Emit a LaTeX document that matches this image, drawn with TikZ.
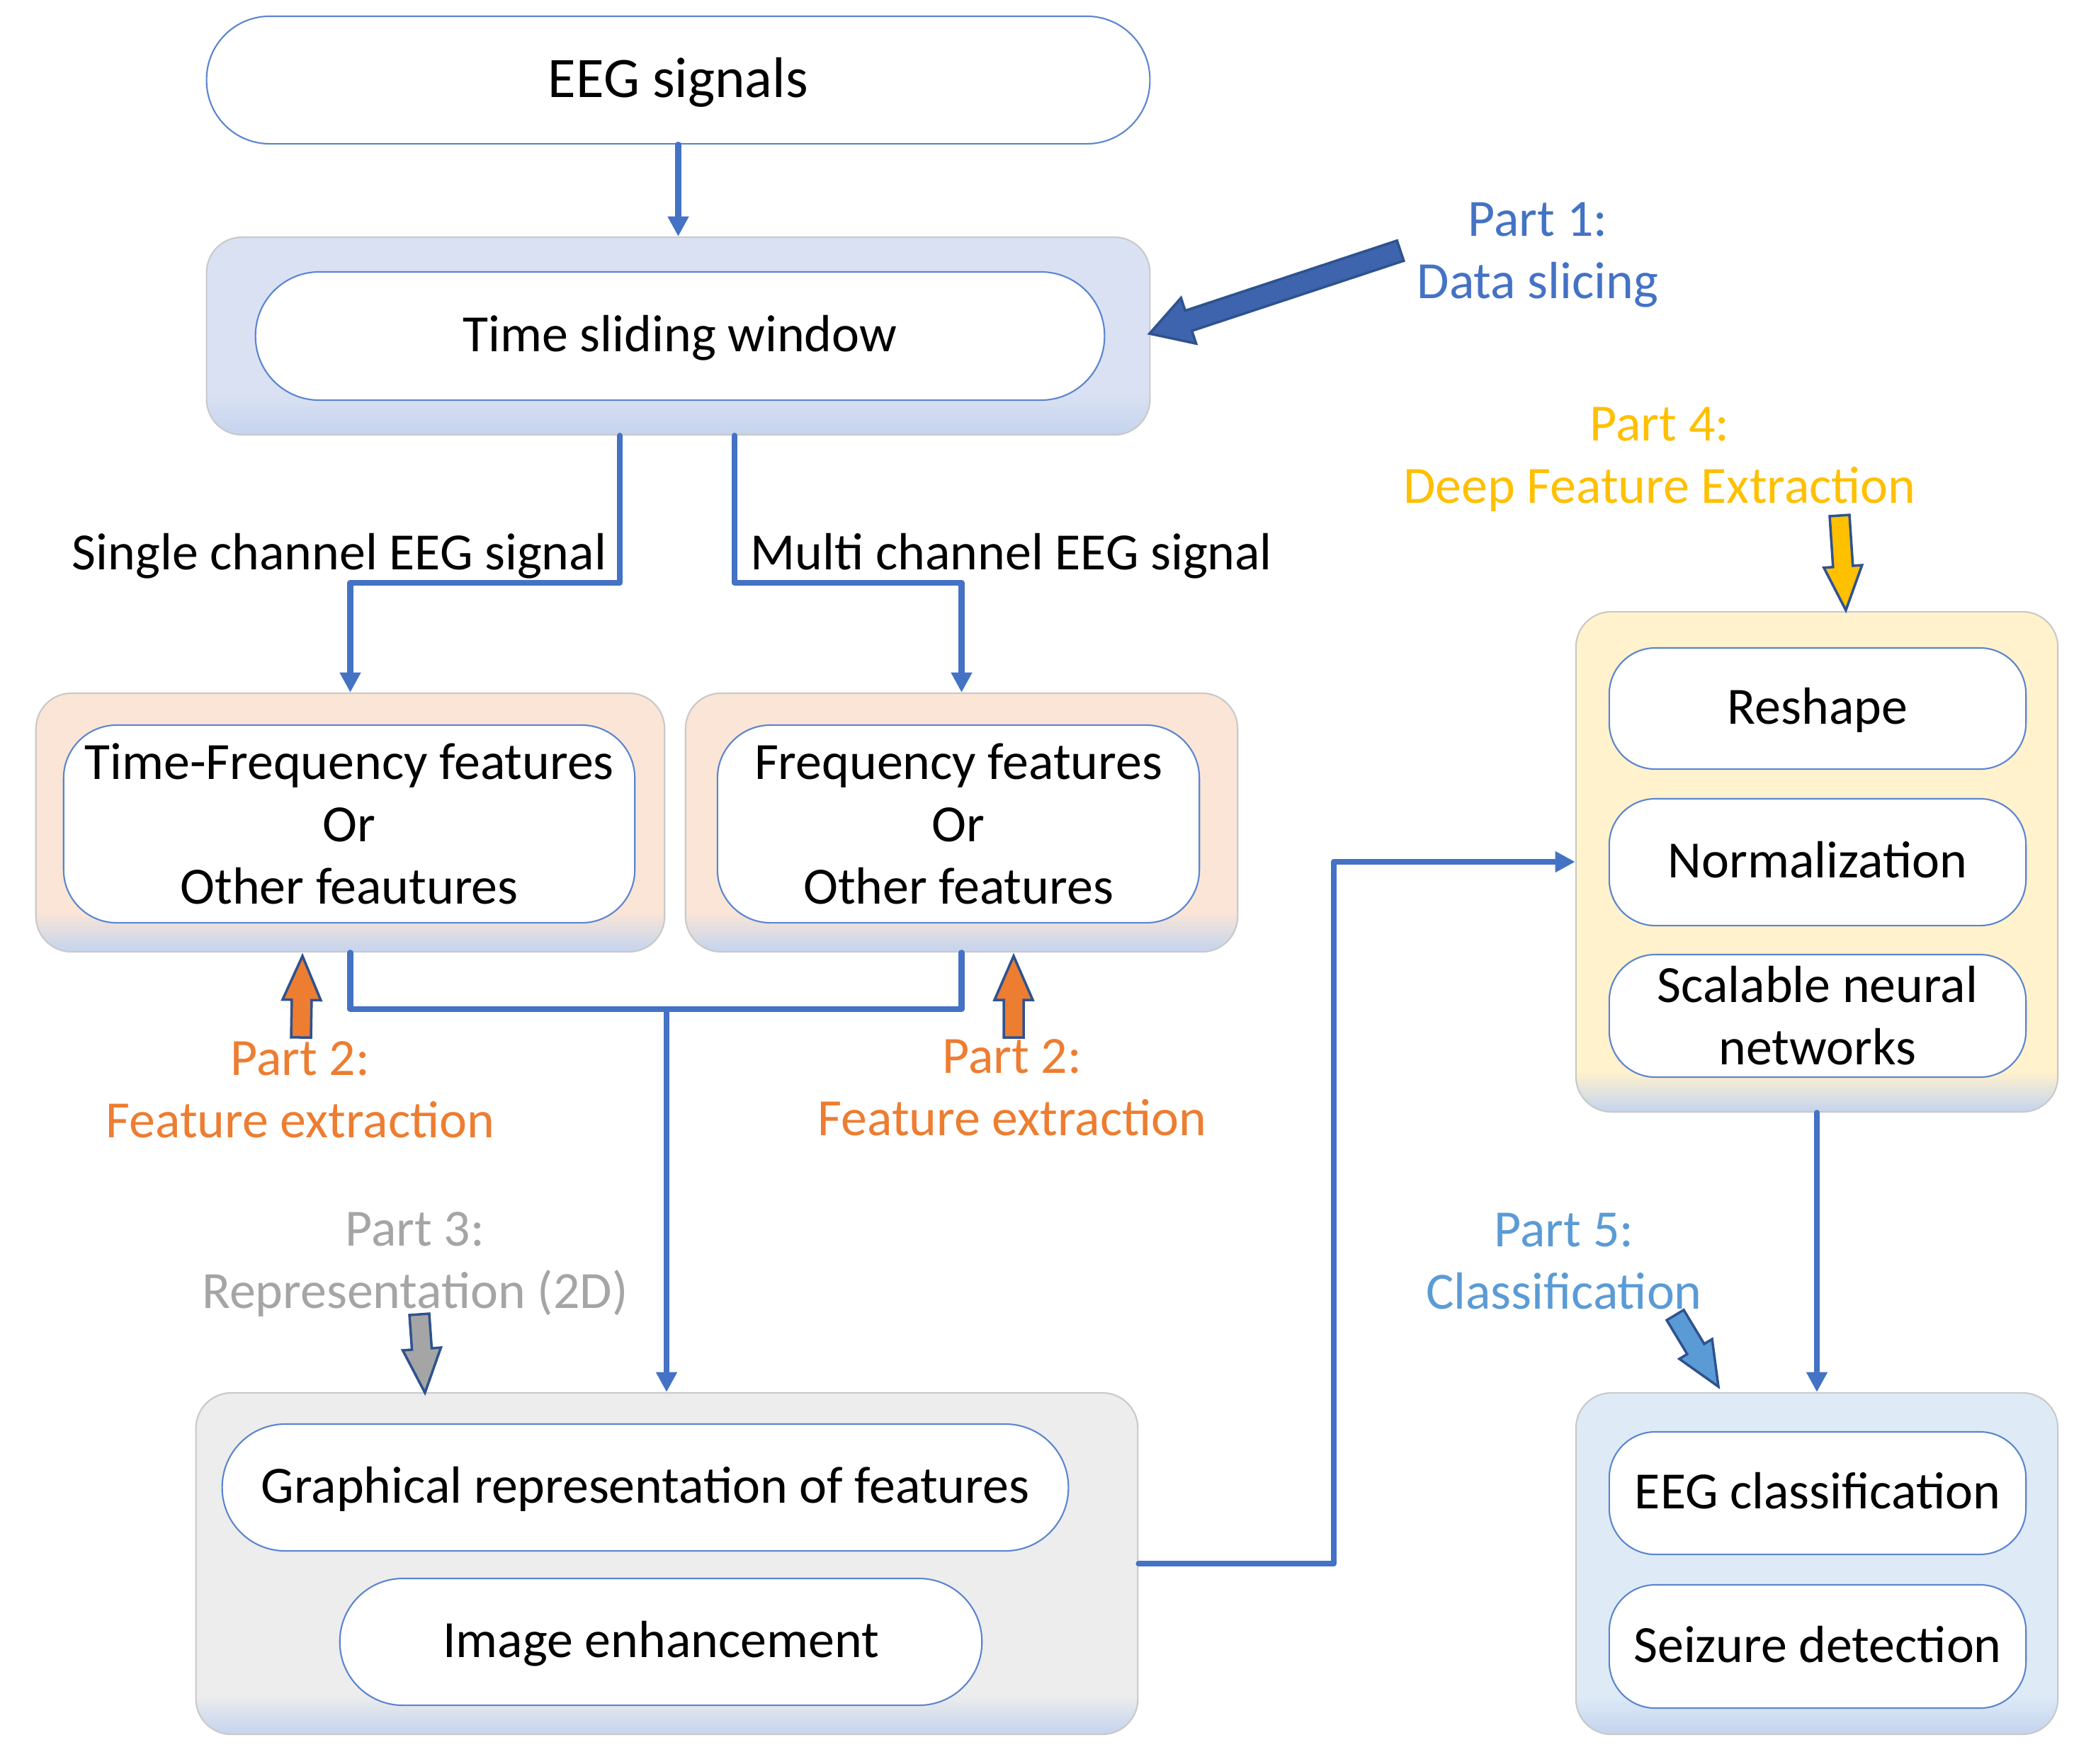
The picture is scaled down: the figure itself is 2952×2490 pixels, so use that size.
\documentclass[tikz,border=0pt]{standalone}
\usepackage{fontspec}
\setmainfont{Carlito}
\usetikzlibrary{arrows.meta,calc}
\definecolor{lineblue}{HTML}{4472C4}
\definecolor{pillblue}{HTML}{5B85D0}
\definecolor{boxgray}{HTML}{C9C9C9}
\definecolor{shadebot}{HTML}{C5D4EE}
\definecolor{twfill}{HTML}{DAE1F3}
\definecolor{peach}{HTML}{FBE5D6}
\definecolor{lgray}{HTML}{EDEDED}
\definecolor{lyellow}{HTML}{FFF2CC}
\definecolor{lblue}{HTML}{DEEBF7}
\definecolor{orng}{HTML}{ED7D31}
\definecolor{gtext}{HTML}{A5A5A5}
\definecolor{gold}{HTML}{FFC000}
\definecolor{pfive}{HTML}{5B9BD5}
\definecolor{pone}{HTML}{3D64AD}
\definecolor{arredge}{HTML}{2F528F}
\newcommand\fatarrow[7]{%
  \begin{scope}[shift={(#1)},rotate=#2]
    \filldraw[fill=#7,draw=arredge,line width=1pt]
      (0,-#4) -- ({#3-#6},-#4) -- ({#3-#6},-#5) -- (#3,0) -- ({#3-#6},#5) -- ({#3-#6},#4) -- (0,#4) -- cycle;
  \end{scope}}
\tikzset{
  outerbox/.style={draw=boxgray, line width=0.6pt, rounded corners=0.5cm, inner sep=0pt, fill=#1,
    path picture={
      \foreach \i [evaluate=\i as \p using {int((\i+1)*4)}, evaluate=\i as \h using {(25-\i)*0.022}] in {0,...,24}
        \fill[sharp corners, shadebot!\p!#1]
          ($(path picture bounding box.south west)+(0,\h cm)$) rectangle (path picture bounding box.south east);
    }},
  pill/.style={draw=pillblue, fill=white, line width=0.6pt, inner sep=0pt, align=center,
    font=\fontsize{21}{25}\selectfont},
  one/.style={text depth=2pt},
  lbl/.style={inner sep=0pt, align=center, font=\fontsize{21}{25}\selectfont},
  conn/.style={draw=lineblue, line width=2.3pt, line cap=round, line join=round},
  arr/.style={conn, -{Triangle[width=8pt,length=8pt]}},
}
\begin{document}
\begin{tikzpicture}[x=0.01cm,y=-0.01cm]
\useasboundingbox (0,0) rectangle (2952,2490);
% top
\node[pill, one, minimum width=13.31cm, minimum height=1.80cm, rounded corners=0.89cm,
  font=\fontsize{23}{27}\selectfont] (eeg) at (957.5,113) {EEG signals};
\node[outerbox=twfill, minimum width=13.31cm, minimum height=2.79cm] (tw) at (957.5,474.5) {};
\node[pill, one, minimum width=11.98cm, minimum height=1.81cm, rounded corners=0.9cm] (twin) at (960,474.5) {Time sliding window};
% feature boxes
\node[outerbox=peach, minimum width=8.87cm, minimum height=3.65cm] (f1) at (494.5,1161.5) {};
\node[pill, minimum width=8.06cm, minimum height=2.79cm, rounded corners=0.75cm] (f1in) at (493,1163.5)
  {Time-Frequency features\\Or\\Other feautures};
\node[outerbox=peach, minimum width=7.79cm, minimum height=3.65cm] (f2) at (1357.5,1161.5) {};
\node[pill, minimum width=6.80cm, minimum height=2.79cm, rounded corners=0.75cm] (f2in) at (1353,1163.5)
  {Frequency features\\Or\\Other features};
% graphical box
\node[outerbox=lgray, minimum width=13.29cm, minimum height=4.82cm] (g) at (941.5,2208) {};
\node[pill, one, minimum width=11.94cm, minimum height=1.79cm, rounded corners=0.89cm] (g1) at (911,2100.5)
  {Graphical representation of features};
\node[pill, one, minimum width=9.06cm, minimum height=1.79cm, rounded corners=0.89cm] (g2) at (933,2318.5)
  {Image enhancement};
% part 4 box
\node[outerbox=lyellow, minimum width=6.80cm, minimum height=7.06cm] (p4) at (2565,1217) {};
\node[pill, one, minimum width=5.88cm, minimum height=1.71cm, rounded corners=0.65cm] (r1) at (2566,1000.5) {Reshape};
\node[pill, one, minimum width=5.88cm, minimum height=1.79cm, rounded corners=0.65cm] (r2) at (2566,1217.5) {Normalization};
\node[pill, minimum width=5.88cm, minimum height=1.73cm, rounded corners=0.65cm] (r3) at (2566,1434.5) {Scalable neural\\networks};
% part 5 box
\node[outerbox=lblue, minimum width=6.80cm, minimum height=4.82cm] (p5) at (2565,2208) {};
\node[pill, one, minimum width=5.88cm, minimum height=1.73cm, rounded corners=0.65cm] (c1) at (2566,2108.5) {EEG classification};
\node[pill, one, minimum width=5.88cm, minimum height=1.74cm, rounded corners=0.65cm] (c2) at (2566,2325) {Seizure detection};
% labels
\node[lbl, one] (bl1) at (479,782) {Single channel EEG signal};
\node[lbl, one] (bl2) at (1428,782) {Multi channel EEG signal};
\node[lbl, text=lineblue] (l1) at (2171,360) {Part 1:\\Data slicing};
\node[lbl, text=orng] (l2a) at (424,1539) {Part 2:\\Feature extraction};
\node[lbl, text=orng] (l2b) at (1429,1536) {Part 2:\\Feature extraction};
\node[lbl, text=gtext] (l3) at (586,1785) {Part 3:\\Representation (2D)};
\node[lbl, text=gold] (l4) at (2343,649) {Part 4:\\Deep Feature Extraction};
\node[lbl, text=pfive] (l5) at (2208,1781) {Part 5:\\Classification};
% connectors
\coordinate (s1) at (875,823);
\coordinate (s2) at (1037,823);
\coordinate (j) at (941,1425);
\coordinate (k) at (1883,2208);
\draw[arr] (eeg.south) -- (tw.north);
\draw[arr] (tw.south -| s1) -- (s1) -| (f1.north);
\draw[arr] (tw.south -| s2) -- (s2) -| (f2.north);
\draw[conn] (f1.south) |- (j) -| (f2.south);
\draw[arr] (j) -- (g.north -| j);
\draw[arr] (g.east) -- (k) |- (p4.west);
\draw[arr] (p4.south) -- (p5.north);
% block arrows
\coordinate (t1) at (1977,354);
\coordinate (t2) at (425,1465);
\coordinate (t3) at (1431,1465);
\coordinate (t4) at (592,1856);
\coordinate (t5) at (2365,1857);
\coordinate (t6) at (2597,728);
\fatarrow{t1}{198.3}{373}{15}{34}{58}{pone}
\fatarrow{t2}{89}{115}{14}{27}{62}{orng}
\fatarrow{t3}{90}{115}{14}{27}{62}{orng}
\fatarrow{t4}{-85.9}{111}{14}{27}{62}{gtext}
\fatarrow{t5}{-58.9}{118}{14}{27}{62}{pfive}
\fatarrow{t6}{-86.2}{134}{14}{27}{62}{gold}
\end{tikzpicture}
\end{document}
